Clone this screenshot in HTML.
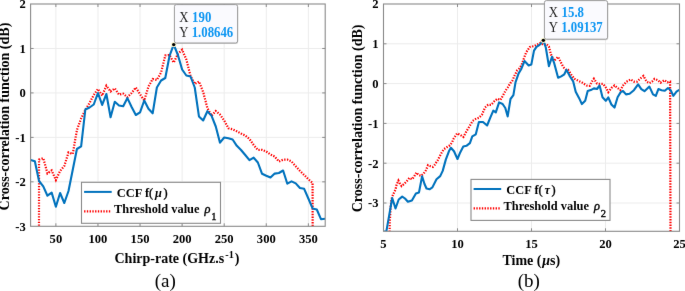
<!DOCTYPE html>
<html><head><meta charset="utf-8"><style>
html,body{margin:0;padding:0;background:#fff;width:685px;height:291px;overflow:hidden}
svg{display:block}
text{font-family:"Liberation Serif","Times New Roman",serif;}
.tk{font-size:12.6px;font-weight:bold;fill:#000}
.lb{font-size:14.0px;font-weight:bold;fill:#000}
.lg{font-size:12.4px;font-weight:bold;fill:#000}
.dt{font-size:12.8px;fill:#262626}
.dv{font-weight:bold;fill:#0d96f2}
.cap{font-size:19px;fill:#000}
</style></head><body>
<svg width="685" height="291" viewBox="0 0 685 291">
<defs><filter id="bl" filterUnits="userSpaceOnUse" x="0" y="0" width="685" height="291" color-interpolation-filters="sRGB"><feConvolveMatrix order="3" kernelMatrix="0.00276 0.04704 0.00276 0.04704 0.80077 0.04704 0.00276 0.04704 0.00276" edgeMode="duplicate"/></filter><clipPath id="cl"><rect x="30.6" y="4" width="294.6" height="222.3"/></clipPath><clipPath id="cr"><rect x="383.5" y="4" width="296" height="227.3"/></clipPath></defs>
<g filter="url(#bl)">
<rect width="685" height="291" fill="#fff"/>
<line x1="55.88" y1="4.0" x2="55.88" y2="226.3" stroke="#ececec" stroke-width="1"/>
<line x1="97.96" y1="4.0" x2="97.96" y2="226.3" stroke="#ececec" stroke-width="1"/>
<line x1="140.04" y1="4.0" x2="140.04" y2="226.3" stroke="#ececec" stroke-width="1"/>
<line x1="182.12" y1="4.0" x2="182.12" y2="226.3" stroke="#ececec" stroke-width="1"/>
<line x1="224.20" y1="4.0" x2="224.20" y2="226.3" stroke="#ececec" stroke-width="1"/>
<line x1="266.28" y1="4.0" x2="266.28" y2="226.3" stroke="#ececec" stroke-width="1"/>
<line x1="308.36" y1="4.0" x2="308.36" y2="226.3" stroke="#ececec" stroke-width="1"/>
<line x1="30.6" y1="48.46" x2="325.2" y2="48.46" stroke="#ececec" stroke-width="1"/>
<line x1="30.6" y1="92.92" x2="325.2" y2="92.92" stroke="#ececec" stroke-width="1"/>
<line x1="30.6" y1="137.38" x2="325.2" y2="137.38" stroke="#ececec" stroke-width="1"/>
<line x1="30.6" y1="181.84" x2="325.2" y2="181.84" stroke="#ececec" stroke-width="1"/>
<line x1="457.50" y1="4.0" x2="457.50" y2="231.3" stroke="#ececec" stroke-width="1"/>
<line x1="531.50" y1="4.0" x2="531.50" y2="231.3" stroke="#ececec" stroke-width="1"/>
<line x1="605.50" y1="4.0" x2="605.50" y2="231.3" stroke="#ececec" stroke-width="1"/>
<line x1="383.5" y1="43.80" x2="679.5" y2="43.80" stroke="#ececec" stroke-width="1"/>
<line x1="383.5" y1="83.60" x2="679.5" y2="83.60" stroke="#ececec" stroke-width="1"/>
<line x1="383.5" y1="123.40" x2="679.5" y2="123.40" stroke="#ececec" stroke-width="1"/>
<line x1="383.5" y1="163.20" x2="679.5" y2="163.20" stroke="#ececec" stroke-width="1"/>
<line x1="383.5" y1="203.00" x2="679.5" y2="203.00" stroke="#ececec" stroke-width="1"/>
<g clip-path="url(#cl)"><polyline points="38.90,300.00 39.05,159.60 43.26,158.10 47.46,173.40 51.67,170.40 55.88,180.10 60.09,171.00 64.30,166.00 68.50,152.50 72.71,154.00 76.92,130.00 81.13,118.50 85.34,110.00 89.54,103.00 93.75,95.00 97.96,89.00 102.17,95.60 106.38,85.70 110.58,91.50 114.79,88.40 119.00,94.60 123.21,93.60 127.42,97.30 131.62,93.00 135.83,87.50 140.04,94.30 144.25,100.50 148.46,86.50 152.66,79.00 156.87,80.00 161.08,72.50 165.29,55.50 169.50,55.00 173.70,62.50 177.91,53.90 182.12,49.70 186.33,59.50 190.54,76.00 194.74,84.00 198.95,81.50 203.16,92.00 207.37,108.00 211.58,115.80 215.78,111.00 219.99,114.50 224.20,120.50 228.41,128.30 232.62,129.30 236.82,131.30 241.03,133.50 245.24,135.50 249.45,139.00 253.66,145.00 257.86,150.00 262.07,149.80 266.28,151.50 270.49,154.50 274.70,156.50 278.90,161.50 283.11,159.70 287.32,159.60 291.53,161.50 295.74,166.30 299.94,170.90 304.15,175.00 308.36,179.30 312.57,182.90 312.77,300.00" fill="none" stroke="#ff0000" stroke-width="2.2" stroke-dasharray="1.35 1.4"/><polyline points="30.63,160.00 34.84,161.20 39.05,181.00 43.26,186.40 47.46,195.70 51.67,192.60 55.88,206.80 60.09,193.00 64.30,203.00 68.50,191.00 72.71,170.00 76.92,149.00 81.13,146.30 85.34,109.50 89.54,107.50 93.75,104.50 97.96,93.00 102.17,104.90 106.38,94.00 110.58,117.30 114.79,101.80 119.00,105.50 123.21,106.30 127.42,98.10 131.62,107.00 135.83,115.00 140.04,112.30 144.25,100.50 148.46,108.80 152.66,113.30 156.87,87.50 161.08,80.50 165.29,78.00 169.50,56.00 173.70,44.60 177.91,55.00 182.12,69.50 186.33,75.50 190.54,76.50 194.74,87.50 198.95,116.40 203.16,120.50 207.37,111.20 211.58,115.80 215.78,126.50 219.99,142.70 224.20,137.50 228.41,138.30 232.62,139.50 236.82,145.80 241.03,150.00 245.24,155.00 249.45,160.20 253.66,157.70 257.86,162.50 262.07,173.80 266.28,175.80 270.49,177.50 274.70,173.60 278.90,173.00 283.11,170.50 287.32,183.70 291.53,181.40 295.74,183.40 299.94,188.00 304.15,188.80 308.36,198.50 312.57,208.40 316.78,209.50 320.98,219.20 325.19,218.70" fill="none" stroke="#0072bd" stroke-width="2.1" stroke-linejoin="round"/></g>
<g clip-path="url(#cr)"><polyline points="389.40,240.00 389.80,222.00 390.60,208.00 391.50,199.00 393.30,194.00 395.50,189.60 396.60,184.70 398.40,180.60 400.50,184.70 401.60,186.10 403.90,184.10 406.70,181.30 409.40,177.90 412.20,179.20 414.20,176.50 416.30,172.60 418.60,175.10 421.10,175.80 423.60,173.70 425.90,170.30 428.00,165.20 430.50,166.20 432.80,166.90 434.40,165.20 437.50,160.60 439.60,156.50 441.60,152.80 443.70,149.30 446.80,147.20 449.90,145.30 452.00,142.50 453.70,138.50 457.20,133.30 460.30,134.90 463.40,137.00 466.50,131.20 469.60,126.10 472.70,120.90 475.80,118.90 478.90,117.80 482.00,114.70 485.00,107.50 488.10,104.80 491.20,104.80 494.30,101.30 497.40,98.70 500.50,99.90 503.00,95.50 505.40,90.90 507.70,87.50 510.30,83.20 512.40,80.60 514.60,75.50 517.20,70.30 519.20,68.60 521.50,65.20 523.50,59.50 526.20,52.30 529.90,46.90 534.00,46.10 537.50,44.40 540.60,42.80 543.30,44.80 546.40,44.00 548.90,46.50 550.90,54.30 554.00,60.90 558.10,56.80 561.20,63.00 563.30,67.10 565.80,69.60 568.10,69.80 571.20,74.60 574.30,78.70 578.40,80.80 582.50,82.80 586.60,85.50 589.70,85.90 591.80,81.80 593.90,78.70 597.00,83.50 600.10,83.90 603.10,83.90 606.20,88.00 608.30,92.10 611.40,88.00 614.50,85.50 617.60,88.00 620.30,90.10 623.50,84.90 626.40,81.70 630.70,79.50 633.90,81.70 637.10,81.70 640.30,78.50 643.50,75.90 646.70,81.70 649.40,83.10 652.00,81.70 654.50,78.90 658.00,80.20 660.50,82.70 664.40,80.20 667.30,82.30 670.10,81.70 670.70,300.00" fill="none" stroke="#ff0000" stroke-width="2.2" stroke-dasharray="1.35 1.4"/><polyline points="383.80,231.60 386.30,231.60 389.30,214.70 392.20,198.00 395.50,208.50 398.70,199.50 402.20,196.60 405.00,198.50 407.90,201.80 411.90,200.50 415.90,193.50 419.00,192.40 422.10,176.20 424.50,184.00 426.50,188.50 429.50,189.30 432.40,187.40 436.50,179.20 440.20,176.10 442.70,170.90 445.80,159.60 448.90,151.30 450.90,147.80 454.00,151.30 457.50,159.00 460.20,152.40 463.30,146.60 466.40,145.80 469.90,143.10 472.30,136.40 475.80,134.30 478.90,122.00 483.00,122.00 487.10,125.50 490.20,117.80 493.30,110.60 495.80,112.30 499.10,102.40 502.60,104.00 505.30,108.00 507.70,116.40 510.50,99.00 513.40,95.20 515.50,82.30 518.60,73.40 521.00,69.50 524.50,61.00 528.70,65.50 531.30,64.60 534.00,50.60 536.50,46.90 539.60,44.80 543.30,40.30 545.80,47.50 548.90,66.10 552.00,56.80 554.00,62.60 558.10,77.80 561.20,76.40 564.30,74.30 566.50,69.80 569.50,75.60 573.20,81.40 575.70,91.70 579.00,97.90 581.90,104.10 585.20,100.80 587.70,91.10 590.80,90.10 593.90,88.40 597.00,89.00 599.60,85.50 602.50,97.30 605.80,100.80 608.30,97.30 611.40,104.50 614.50,107.60 617.60,97.30 620.70,92.10 623.00,91.00 626.00,94.40 629.60,93.80 633.90,90.20 638.10,84.40 641.30,89.10 644.50,91.20 649.40,86.60 653.00,94.40 655.80,95.90 658.40,89.10 661.60,90.20 664.80,90.80 668.00,88.00 670.70,90.20 673.30,95.90 676.50,91.70 679.70,89.50" fill="none" stroke="#0072bd" stroke-width="2.1" stroke-linejoin="round"/></g>
<rect x="30.6" y="4.0" width="294.60" height="222.30" fill="none" stroke="#8a8a8a" stroke-width="1.1"/>
<line x1="55.88" y1="226.3" x2="55.88" y2="223.3" stroke="#8a8a8a" stroke-width="1"/>
<line x1="55.88" y1="4.0" x2="55.88" y2="7.0" stroke="#8a8a8a" stroke-width="1"/>
<line x1="97.96" y1="226.3" x2="97.96" y2="223.3" stroke="#8a8a8a" stroke-width="1"/>
<line x1="97.96" y1="4.0" x2="97.96" y2="7.0" stroke="#8a8a8a" stroke-width="1"/>
<line x1="140.04" y1="226.3" x2="140.04" y2="223.3" stroke="#8a8a8a" stroke-width="1"/>
<line x1="140.04" y1="4.0" x2="140.04" y2="7.0" stroke="#8a8a8a" stroke-width="1"/>
<line x1="182.12" y1="226.3" x2="182.12" y2="223.3" stroke="#8a8a8a" stroke-width="1"/>
<line x1="182.12" y1="4.0" x2="182.12" y2="7.0" stroke="#8a8a8a" stroke-width="1"/>
<line x1="224.20" y1="226.3" x2="224.20" y2="223.3" stroke="#8a8a8a" stroke-width="1"/>
<line x1="224.20" y1="4.0" x2="224.20" y2="7.0" stroke="#8a8a8a" stroke-width="1"/>
<line x1="266.28" y1="226.3" x2="266.28" y2="223.3" stroke="#8a8a8a" stroke-width="1"/>
<line x1="266.28" y1="4.0" x2="266.28" y2="7.0" stroke="#8a8a8a" stroke-width="1"/>
<line x1="308.36" y1="226.3" x2="308.36" y2="223.3" stroke="#8a8a8a" stroke-width="1"/>
<line x1="308.36" y1="4.0" x2="308.36" y2="7.0" stroke="#8a8a8a" stroke-width="1"/>
<line x1="30.6" y1="48.46" x2="33.6" y2="48.46" stroke="#8a8a8a" stroke-width="1"/>
<line x1="325.2" y1="48.46" x2="322.2" y2="48.46" stroke="#8a8a8a" stroke-width="1"/>
<line x1="30.6" y1="92.92" x2="33.6" y2="92.92" stroke="#8a8a8a" stroke-width="1"/>
<line x1="325.2" y1="92.92" x2="322.2" y2="92.92" stroke="#8a8a8a" stroke-width="1"/>
<line x1="30.6" y1="137.38" x2="33.6" y2="137.38" stroke="#8a8a8a" stroke-width="1"/>
<line x1="325.2" y1="137.38" x2="322.2" y2="137.38" stroke="#8a8a8a" stroke-width="1"/>
<line x1="30.6" y1="181.84" x2="33.6" y2="181.84" stroke="#8a8a8a" stroke-width="1"/>
<line x1="325.2" y1="181.84" x2="322.2" y2="181.84" stroke="#8a8a8a" stroke-width="1"/>
<rect x="383.5" y="4.0" width="296.00" height="227.30" fill="none" stroke="#8a8a8a" stroke-width="1.1"/>
<line x1="457.50" y1="231.3" x2="457.50" y2="228.3" stroke="#8a8a8a" stroke-width="1"/>
<line x1="457.50" y1="4.0" x2="457.50" y2="7.0" stroke="#8a8a8a" stroke-width="1"/>
<line x1="531.50" y1="231.3" x2="531.50" y2="228.3" stroke="#8a8a8a" stroke-width="1"/>
<line x1="531.50" y1="4.0" x2="531.50" y2="7.0" stroke="#8a8a8a" stroke-width="1"/>
<line x1="605.50" y1="231.3" x2="605.50" y2="228.3" stroke="#8a8a8a" stroke-width="1"/>
<line x1="605.50" y1="4.0" x2="605.50" y2="7.0" stroke="#8a8a8a" stroke-width="1"/>
<line x1="383.5" y1="43.80" x2="386.5" y2="43.80" stroke="#8a8a8a" stroke-width="1"/>
<line x1="679.5" y1="43.80" x2="676.5" y2="43.80" stroke="#8a8a8a" stroke-width="1"/>
<line x1="383.5" y1="83.60" x2="386.5" y2="83.60" stroke="#8a8a8a" stroke-width="1"/>
<line x1="679.5" y1="83.60" x2="676.5" y2="83.60" stroke="#8a8a8a" stroke-width="1"/>
<line x1="383.5" y1="123.40" x2="386.5" y2="123.40" stroke="#8a8a8a" stroke-width="1"/>
<line x1="679.5" y1="123.40" x2="676.5" y2="123.40" stroke="#8a8a8a" stroke-width="1"/>
<line x1="383.5" y1="163.20" x2="386.5" y2="163.20" stroke="#8a8a8a" stroke-width="1"/>
<line x1="679.5" y1="163.20" x2="676.5" y2="163.20" stroke="#8a8a8a" stroke-width="1"/>
<line x1="383.5" y1="203.00" x2="386.5" y2="203.00" stroke="#8a8a8a" stroke-width="1"/>
<line x1="679.5" y1="203.00" x2="676.5" y2="203.00" stroke="#8a8a8a" stroke-width="1"/>
<circle cx="173.7" cy="44.6" r="2.7" fill="#fbf8d0"/><circle cx="173.7" cy="44.6" r="1.7" fill="#000"/>
<circle cx="543.35" cy="40.35" r="2.7" fill="#fbf8d0"/><circle cx="543.35" cy="40.35" r="1.7" fill="#000"/>
<g>
<rect x="175.0" y="5.6" width="63.2" height="38.4" rx="2" fill="#b8b8b8" opacity="0.55"/>
<rect x="174.4" y="4.6" width="63.2" height="38.4" rx="2" fill="#fafafe" stroke="#8e8e8e" stroke-width="0.9"/>
<text transform="translate(179.20,21.50) scale(1,1.06)" class="dt">X <tspan dx="0.5" class="dv">190</tspan></text>
<text transform="translate(179.20,36.50) scale(1,1.06)" class="dt">Y <tspan dx="0.5" class="dv">1.08646</tspan></text>
</g>
<g>
<rect x="545.0" y="1.6" width="63.2" height="38.6" rx="2" fill="#b8b8b8" opacity="0.55"/>
<rect x="544.4" y="0.6" width="63.2" height="38.6" rx="2" fill="#fafafe" stroke="#8e8e8e" stroke-width="0.9"/>
<text transform="translate(548.70,16.90) scale(1,1.06)" class="dt">X <tspan dx="0.5" class="dv">15.8</tspan></text>
<text transform="translate(548.70,31.90) scale(1,1.06)" class="dt">Y <tspan dx="0.5" class="dv">1.09137</tspan></text>
</g>
<g>
<rect x="81.5" y="182.3" width="139" height="41" fill="#ffffff" stroke="#8a8a8a" stroke-width="1.1"/>
<line x1="84.1" y1="191.9" x2="111.7" y2="191.9" stroke="#0072bd" stroke-width="2"/>
<line x1="84.1" y1="211.3" x2="110.9" y2="211.3" stroke="#ff0000" stroke-width="2.2" stroke-dasharray="1.35 1.4"/>
<text x="116.8" y="197.0" class="lg">CCF f<tspan font-weight="normal" stroke="#000" stroke-width="0.35">(</tspan><tspan dx="1.9" font-style="italic">μ</tspan><tspan dx="1.4" font-weight="normal" stroke="#000" stroke-width="0.35">)</tspan></text>
<text x="114.0" y="212.8" class="lg">Threshold value <tspan dx="1.8" font-style="italic" font-weight="normal" stroke="#000" stroke-width="0.4">ρ</tspan><tspan dx="0.9" dy="7.0" font-size="10.5" font-weight="normal" stroke="#000" stroke-width="0.35">1</tspan></text>
</g>
<g>
<rect x="471.0" y="179.4" width="139" height="41" fill="#ffffff" stroke="#8a8a8a" stroke-width="1.1"/>
<line x1="473.6" y1="189.0" x2="501.2" y2="189.0" stroke="#0072bd" stroke-width="2"/>
<line x1="473.6" y1="208.4" x2="500.4" y2="208.4" stroke="#ff0000" stroke-width="2.2" stroke-dasharray="1.35 1.4"/>
<text x="506.3" y="194.1" class="lg">CCF f<tspan font-weight="normal" stroke="#000" stroke-width="0.35">(</tspan><tspan dx="1.9" font-style="italic">τ</tspan><tspan dx="1.4" font-weight="normal" stroke="#000" stroke-width="0.35">)</tspan></text>
<text x="503.5" y="209.9" class="lg">Threshold value <tspan dx="1.8" font-style="italic" font-weight="normal" stroke="#000" stroke-width="0.4">ρ</tspan><tspan dx="0.9" dy="7.0" font-size="10.5" font-weight="normal" stroke="#000" stroke-width="0.35">2</tspan></text>
</g>
<text transform="translate(55.88,242.80) scale(1,1.06)" class="tk" text-anchor="middle">50</text>
<text transform="translate(97.96,242.80) scale(1,1.06)" class="tk" text-anchor="middle">100</text>
<text transform="translate(140.04,242.80) scale(1,1.06)" class="tk" text-anchor="middle">150</text>
<text transform="translate(182.12,242.80) scale(1,1.06)" class="tk" text-anchor="middle">200</text>
<text transform="translate(224.20,242.80) scale(1,1.06)" class="tk" text-anchor="middle">250</text>
<text transform="translate(266.28,242.80) scale(1,1.06)" class="tk" text-anchor="middle">300</text>
<text transform="translate(308.36,242.80) scale(1,1.06)" class="tk" text-anchor="middle">350</text>
<text transform="translate(25.80,8.40) scale(1,1.06)" class="tk" text-anchor="end">2</text>
<text transform="translate(25.80,52.86) scale(1,1.06)" class="tk" text-anchor="end">1</text>
<text transform="translate(25.80,97.32) scale(1,1.06)" class="tk" text-anchor="end">0</text>
<text transform="translate(25.80,141.78) scale(1,1.06)" class="tk" text-anchor="end">-1</text>
<text transform="translate(25.80,186.24) scale(1,1.06)" class="tk" text-anchor="end">-2</text>
<text transform="translate(25.80,230.70) scale(1,1.06)" class="tk" text-anchor="end">-3</text>
<text transform="translate(383.50,247.90) scale(1,1.06)" class="tk" text-anchor="middle">5</text>
<text transform="translate(457.50,247.90) scale(1,1.06)" class="tk" text-anchor="middle">10</text>
<text transform="translate(531.50,247.90) scale(1,1.06)" class="tk" text-anchor="middle">15</text>
<text transform="translate(605.50,247.90) scale(1,1.06)" class="tk" text-anchor="middle">20</text>
<text transform="translate(679.50,247.90) scale(1,1.06)" class="tk" text-anchor="middle">25</text>
<text transform="translate(378.60,8.40) scale(1,1.06)" class="tk" text-anchor="end">2</text>
<text transform="translate(378.60,48.20) scale(1,1.06)" class="tk" text-anchor="end">1</text>
<text transform="translate(378.60,88.00) scale(1,1.06)" class="tk" text-anchor="end">0</text>
<text transform="translate(378.60,127.80) scale(1,1.06)" class="tk" text-anchor="end">-1</text>
<text transform="translate(378.60,167.60) scale(1,1.06)" class="tk" text-anchor="end">-2</text>
<text transform="translate(378.60,207.40) scale(1,1.06)" class="tk" text-anchor="end">-3</text>
<text x="177.0" y="263.0" class="lb" text-anchor="middle">Chirp-rate (GHz.s<tspan dx="1.1" dy="-5.2" font-size="10.3">-1</tspan><tspan dx="1.0" dy="5.2">)</tspan></text>
<text x="531.3" y="264.6" class="lb" text-anchor="middle">Time (<tspan dx="0.8" font-style="italic">μ</tspan>s)</text>
<text transform="translate(9.4,116.55) rotate(-90)" class="lb" text-anchor="middle">Cross-correlation function (dB)</text>
<text transform="translate(362.3,118.4) rotate(-90)" class="lb" text-anchor="middle">Cross-correlation function (dB)</text>
<text x="165.2" y="287" class="cap" text-anchor="middle">(a)</text>
<text x="528.8" y="287" class="cap" text-anchor="middle">(b)</text>
</g>
</svg>
</body></html>
